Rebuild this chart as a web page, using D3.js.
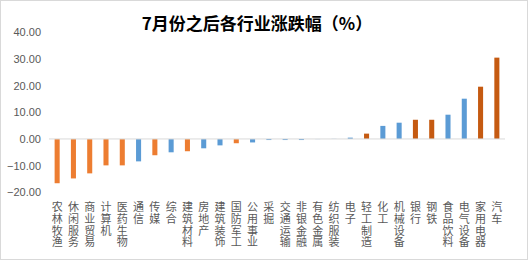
<!DOCTYPE html>
<html>
<head>
<meta charset="utf-8">
<script src="https://cdn.jsdelivr.net/npm/d3@7"></script>
<style>
  body { margin: 0; background: #fff; }
  svg { display: block; }
</style>
</head>
<body>
<div id="chart"></div>
<script>
// Industry names, in bar order
const industries = ["农林牧渔", "休闲服务", "商业贸易", "计算机", "医药生物", "通信", "传媒", "综合",
  "建筑材料", "房地产", "建筑装饰", "国防军工", "公用事业", "采掘", "交通运输", "非银金融",
  "有色金属", "纺织服装", "电子", "轻工制造", "化工", "机械设备", "银行", "钢铁",
  "食品饮料", "电气设备", "家用电器", "汽车"];

// Change since July (%)
const changes = [-16.6, -14.8, -12.9, -9.9, -9.9, -8.4, -6.1, -5.0,
  -4.6, -3.5, -2.4, -1.6, -1.3, -0.4, -0.4, -0.4,
  -0.05, 0.05, 0.5, 2.0, 4.9, 6.1, 7.2, 7.2,
  9.1, 15.1, 19.6, 30.5];

// colour group of each bar: o = orange, b = blue, d = dark orange
const groups = ["o", "o", "o", "o", "o", "b", "o", "b",
  "o", "b", "b", "o", "b", "b", "b", "b",
  "b", "b", "b", "d", "b", "b", "d", "d",
  "b", "b", "d", "d"];

const yTicks = [-20, -10, 0, 10, 20, 30, 40];

const width = 528, height = 260;
const colors = { o: "#ED7D31", b: "#5B9BD5", d: "#C55A11" };

const svg = d3.select("#chart").append("svg")
  .attr("width", width)
  .attr("height", height);

// outer border
svg.append("rect")
  .attr("x", 0.5).attr("y", 0.5)
  .attr("width", width - 1).attr("height", height - 1)
  .attr("fill", "#fff")
  .attr("stroke", "#D9D9D9");

const x = d3.scaleBand()
  .domain(industries)
  .range([49, 505])
  .paddingInner(0.69)
  .paddingOuter(0.345);

const y = d3.scaleLinear()
  .domain([-20, 40])
  .range([192.3, 32.3]);

// title
svg.append("text")
  .attr("x", 257)
  .attr("y", 30)
  .attr("text-anchor", "middle")
  .style("font-family", "'Noto Sans CJK SC', sans-serif")
  .style("font-weight", "bold")
  .style("font-size", "17px")
  .attr("fill", "#000")
  .text("7月份之后各行业涨跌幅（%）");

// y axis labels
const yAxis = d3.axisLeft(y)
  .tickValues(yTicks)
  .tickSize(0)
  .tickPadding(0)
  .tickFormat(d3.format(".2f"));

svg.append("g")
  .attr("transform", "translate(41,0)")
  .call(yAxis)
  .call(g => g.select(".domain").remove())
  .call(g => g.selectAll("text")
    .attr("fill", "#595959")
    .style("font-family", "'Liberation Sans', Arial, sans-serif")
    .style("font-size", "11px"));

// bars
svg.selectAll(".bar")
  .data(industries)
  .enter()
  .append("rect")
  .attr("class", "bar")
  .attr("x", d => x(d))
  .attr("width", x.bandwidth())
  .attr("y", (d, i) => y(Math.max(0, changes[i])))
  .attr("height", (d, i) => Math.abs(y(changes[i]) - y(0)))
  .attr("fill", (d, i) => colors[groups[i]]);

// zero line
svg.append("line")
  .attr("x1", 49).attr("x2", 505)
  .attr("y1", y(0)).attr("y2", y(0))
  .attr("stroke", "#D9D9D9")
  .attr("stroke-width", 1);

// vertical category labels (stacked characters)
svg.selectAll(".cat")
  .data(industries)
  .enter()
  .append("text")
  .attr("class", "cat")
  .attr("x", d => x(d) + x.bandwidth() / 2)
  .attr("y", 201.5)
  .style("writing-mode", "vertical-rl")
  .style("letter-spacing", "0.7px")
  .attr("fill", "#595959")
  .style("font-family", "'Noto Sans CJK SC', sans-serif")
  .style("font-size", "11px")
  .text(d => d);
</script>
</body>
</html>
